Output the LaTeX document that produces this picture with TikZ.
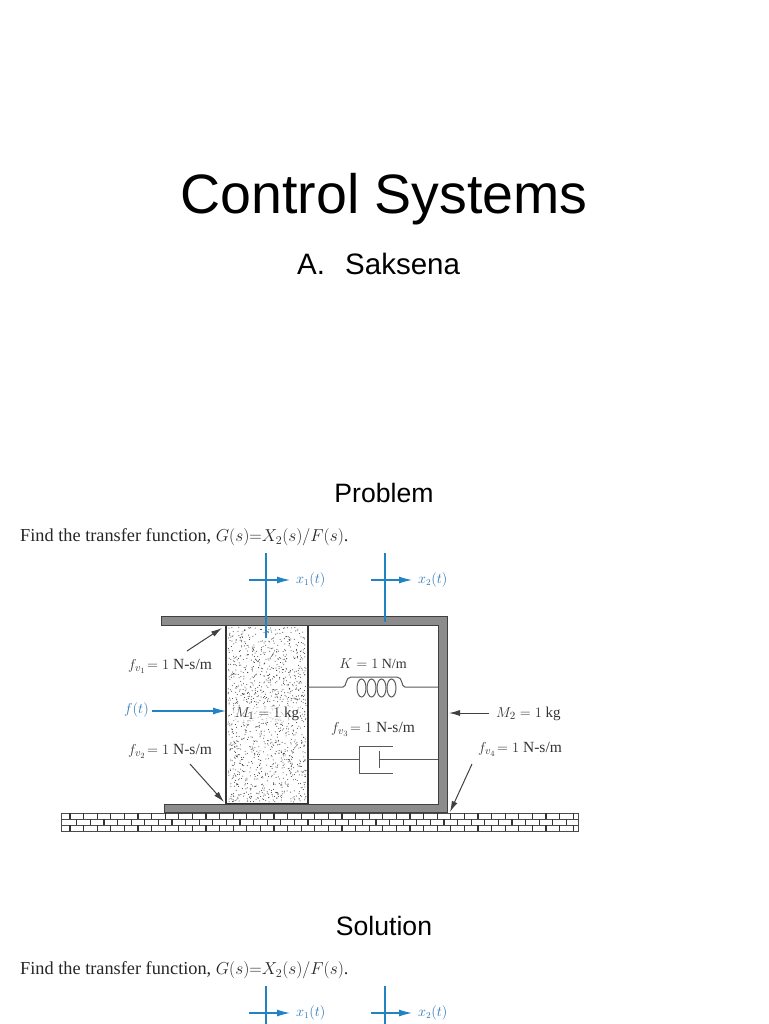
\documentclass[tikz,border=0pt]{standalone}
\usepackage{fontspec}
\setmainfont{Liberation Serif}
\newfontfamily\slidefont{Liberation Sans}
\usetikzlibrary{arrows.meta}

\begin{document}
\begin{tikzpicture}[x=1pt,y=-1pt,
slide/.style = {font=\slidefont, inner sep=0pt},
small/.style = {font=\fontsize{15.5}{18}\selectfont, text=black!80, inner sep=0pt},
find/.style = {font=\fontsize{18.3}{20}\selectfont, text=black!85, inner sep=0pt, anchor=west},
xlabel/.style = {font=\fontsize{13.5}{15}\selectfont, text=cyan!60!blue!85!black, inner sep=0pt, anchor=west},
blueline/.style = {draw=cyan!70!blue!90!black, line width=1.1pt},
bluearrow/.style = {blueline, -{Latex[length=13pt,width=7pt]}},
blackarrow/.style = {draw=black!75, line width=1pt, -{Latex[length=11pt,width=6pt]}},
wire/.style = {draw=black!65, line width=1pt}]

\useasboundingbox (0,0) rectangle (768,1024);

% slide text
\node[slide, font=\slidefont\fontsize{55.5}{60}\selectfont] (title) at (384,199) {Control Systems};
\node[slide, font=\slidefont\fontsize{29.5}{32}\selectfont, anchor=west] (authorA) at (297,264) {A.};
\node[slide, font=\slidefont\fontsize{29.5}{32}\selectfont, anchor=west] (author) at (345,264) {Saksena};
\node[slide, font=\slidefont\fontsize{26.6}{30}\selectfont] (problem) at (384,493) {Problem};
\node[slide, font=\slidefont\fontsize{26.6}{30}\selectfont] (solution) at (384,926) {Solution};
\node[find] (find1) at (20,537.5) {Find the transfer function, $G(s){=}X_2(s)/F(s)$.};
\node[find] (find2) at (20,970.5) {Find the transfer function, $G(s){=}X_2(s)/F(s)$.};

% ground
\draw[draw=black!70, line width=1pt, fill=white] (61,813) rectangle (578,831);
\draw[draw=black!70, line width=1pt] (61,819) -- (578,819) (61,825) -- (578,825);
\foreach \i in {0,...,37} {
    \draw[draw=black!80, line width=1.1pt] (70+13.6*\i,813) -- (70+13.6*\i,819);
    \draw[draw=black!80, line width=1.1pt] (70+13.6*\i,825) -- (70+13.6*\i,831);
}
\foreach \i in {0,...,36} {
    \draw[draw=black!80, line width=1.1pt] (76.8+13.6*\i,819) -- (76.8+13.6*\i,825);
}

% mass 1
\draw[draw=black!80, line width=1.2pt, fill=white] (226,625) rectangle (308,804);
\pgfmathsetseed{42}
\foreach \i in {1,...,1300} {
    \pgfmathsetmacro{\px}{228+78*rnd}
    \pgfmathsetmacro{\py}{627+175*rnd}
    \fill[black!80] (\px,\py) circle (0.5pt);
}
\node[small, font=\fontsize{15}{18}\selectfont, fill=white, fill opacity=0.6, text opacity=1, inner sep=1pt] (mone) at (267,714) {$M_1=1$ kg};

% mass 2
\draw[draw=black!75, line width=1pt, fill=black!45] (161,616) -- (447,616) -- (447,812) -- (164,812)
    -- (164,804) -- (438,804) -- (438,625) -- (161,625) -- cycle;

% spring
\coordinate (springL) at (308,687);
\coordinate (springR) at (438,687);
\draw[wire] (springL) -- (343,687) .. controls (347,687) and (345,677) .. (351,677) -- (397,677)
    .. controls (403,677) and (401,687) .. (405,687) -- (springR);
\foreach \i in {0,...,3} {
    \draw[wire] (361.5+10*\i,688) ellipse (4.5 and 9);
}

% damper
\coordinate (damperL) at (308,759.5);
\coordinate (damperR) at (438,759.5);
\coordinate (cylinder) at (359,759.5);
\coordinate (piston) at (379,759.5);
\draw[wire] (damperL) -- (cylinder);
\draw[wire] (393,746.5) -- (359,746.5) -- (359,773) -- (393,773);
\draw[wire] (379,751) -- (379,768);
\draw[wire] (piston) -- (damperR);

% labels
\node[small] (fvone) at (170,666) {$f_{v_1}\!=1$ N-s/m};
\node[small] (fvtwo) at (170,751) {$f_{v_2}\!=1$ N-s/m};
\node[small] (fvthree) at (373,729) {$f_{v_3}\!=1$ N-s/m};
\node[small] (fvfour) at (520,749) {$f_{v_4}\!=1$ N-s/m};
\node[small, font=\fontsize{14}{18}\selectfont] (spring) at (373,664) {$K=1$ N/m};
\node[small, font=\fontsize{15}{18}\selectfont, anchor=west] (mtwo) at (496,714) {$M_2=1$ kg};
\node[xlabel, font=\fontsize{14.5}{16}\selectfont] (ft) at (124,710) {$f(t)$};

% arrows
\coordinate (fvoneA) at (187,651);
\coordinate (fvoneB) at (222,628);
\coordinate (fvtwoA) at (190,764);
\coordinate (fvtwoB) at (224,802);
\coordinate (fvfourA) at (472,764);
\coordinate (fvfourB) at (450,812);
\coordinate (mtwoA) at (489,713);
\coordinate (mtwoB) at (449,713);
\coordinate (ftA) at (152,711);
\coordinate (ftB) at (226,711);
\draw[blackarrow] (fvoneA) -- (fvoneB);
\draw[blackarrow] (fvtwoA) -- (fvtwoB);
\draw[blackarrow] (fvfourA) -- (fvfourB);
\draw[blackarrow] (mtwoA) -- (mtwoB);
\draw[bluearrow] (ftA) -- (ftB);

% displacement marks
\foreach \name/\x/\y/\a/\b/\e/\t in {a/266/580/553/638/249/1, b/385/580/553/622/371/2, c/266/1013/986/1024/249/1, d/385/1013/986/1024/371/2} {
    \coordinate (\name top) at (\x,\a);
    \coordinate (\name end) at (\x,\b);
    \coordinate (\name from) at (\e,\y);
    \coordinate (\name to) at (\e+41,\y);
    \draw[blueline] (\name top) -- (\name end);
    \draw[bluearrow] (\name from) -- (\name to);
    \node[xlabel] (\name label) at (\e+47,\y) {$x_{\t}(t)$};
}

\end{tikzpicture}
\end{document}
